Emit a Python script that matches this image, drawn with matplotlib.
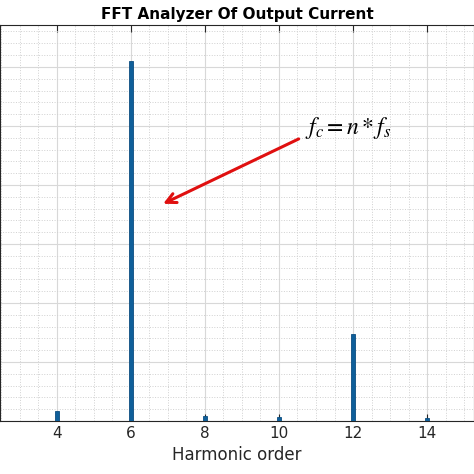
import matplotlib
matplotlib.use("Agg")
import matplotlib.pyplot as plt
from matplotlib.ticker import MultipleLocator, NullFormatter

plt.rcParams["mathtext.fontset"] = "stix"

orders = [4, 6, 8, 10, 12, 14]
mags = [0.17, 6.1, 0.08, 0.07, 1.47, 0.05]
xticks = [4, 6, 8, 10, 12, 14]

fig = plt.figure(figsize=(4.74, 4.74), dpi=100)
ax = fig.add_axes([0.0, 1 - 421/474, 1.0, (421-25)/474])
ax.bar(orders, mags, width=0.12, color="#0f5f9a", edgecolor="#0b4d80", linewidth=0.6, zorder=3)
ax.set_xlim(2.46, 15.27)
ax.set_ylim(0, 6.71)
ax.set_xticks(xticks)
ax.xaxis.set_minor_locator(MultipleLocator(0.5))
ax.yaxis.set_major_locator(MultipleLocator(1))
ax.yaxis.set_minor_locator(MultipleLocator(0.2))
ax.yaxis.set_major_formatter(NullFormatter())
ax.tick_params(axis="x", labelsize=11, top=True, direction="in", length=5, colors="#262626")
ax.tick_params(axis="y", left=False, right=False)
ax.tick_params(which="minor", length=0)
ax.grid(which="major", color="#d8d8d8", linewidth=0.8, zorder=0)
ax.grid(which="minor", color="#d0d0d0", linewidth=0.7, linestyle=":", zorder=0)
for s in ax.spines.values():
    s.set_color("#262626"); s.set_linewidth(0.8)
ax.set_xlabel("Harmonic order", fontsize=12, color="#262626")
ax.set_title("FFT Analyzer Of Output Current", fontsize=11, fontweight="bold", pad=4)
ax.annotate("", xy=(6.8, 3.66), xytext=(10.6, 4.8),
            arrowprops=dict(arrowstyle="->,head_length=0.7,head_width=0.35", color="#e01010", lw=2.2))
ax.text(10.7, 4.75, r"$f_c = n * f_s$", fontsize=17, va="bottom", ha="left")
fig.savefig("out.png", dpi=100)
